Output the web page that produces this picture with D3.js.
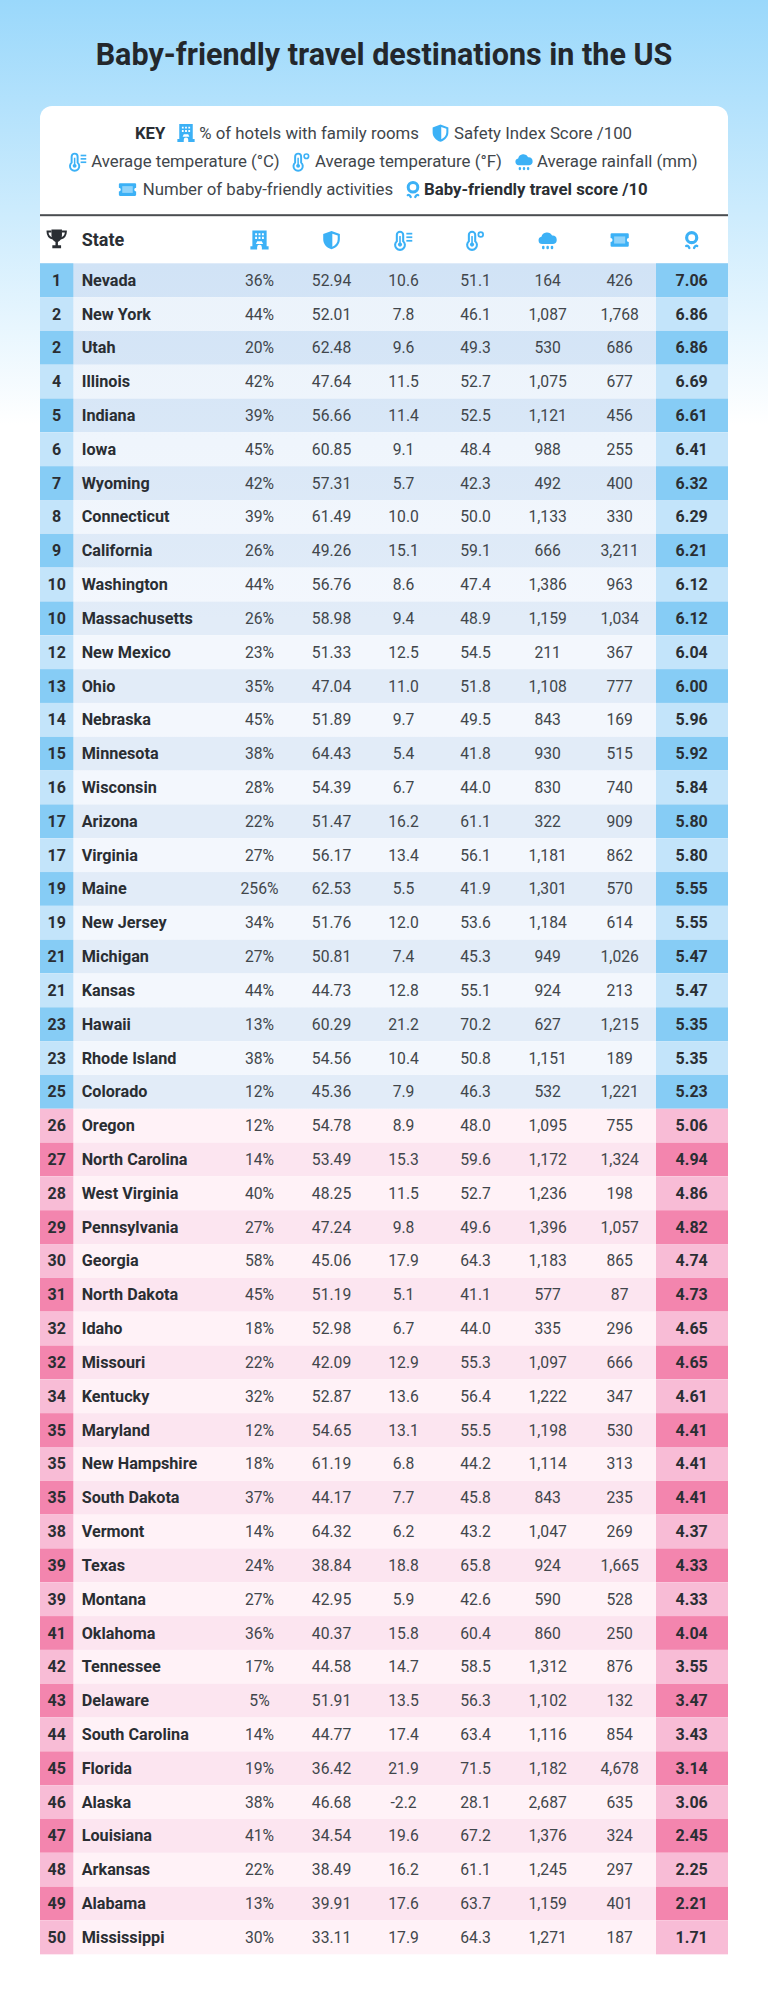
<!DOCTYPE html>
<html>
<head>
<meta charset="utf-8">
<script src="https://cdn.jsdelivr.net/npm/d3@7"></script>
<style>
  html, body { margin: 0; padding: 0; background: #fff; }
  svg { display: block; }
  text { font-family: Roboto, sans-serif; }
</style>
</head>
<body>
<script>
// table data
var ranks = [1,2,2,4,5,6,7,8,9,10,10,12,13,14,15,16,17,17,19,19,21,21,23,23,25,26,27,28,29,30,31,32,32,34,35,35,35,38,39,39,41,42,43,44,45,46,47,48,49,50];
var states = ["Nevada","New York","Utah","Illinois","Indiana","Iowa","Wyoming","Connecticut","California","Washington","Massachusetts","New Mexico","Ohio","Nebraska","Minnesota","Wisconsin","Arizona","Virginia","Maine","New Jersey","Michigan","Kansas","Hawaii","Rhode Island","Colorado","Oregon","North Carolina","West Virginia","Pennsylvania","Georgia","North Dakota","Idaho","Missouri","Kentucky","Maryland","New Hampshire","South Dakota","Vermont","Texas","Montana","Oklahoma","Tennessee","Delaware","South Carolina","Florida","Alaska","Louisiana","Arkansas","Alabama","Mississippi"];
var hotels = [36,44,20,42,39,45,42,39,26,44,26,23,35,45,38,28,22,27,256,34,27,44,13,38,12,12,14,40,27,58,45,18,22,32,12,18,37,14,24,27,36,17,5,14,19,38,41,22,13,30];
var safety = [52.94,52.01,62.48,47.64,56.66,60.85,57.31,61.49,49.26,56.76,58.98,51.33,47.04,51.89,64.43,54.39,51.47,56.17,62.53,51.76,50.81,44.73,60.29,54.56,45.36,54.78,53.49,48.25,47.24,45.06,51.19,52.98,42.09,52.87,54.65,61.19,44.17,64.32,38.84,42.95,40.37,44.58,51.91,44.77,36.42,46.68,34.54,38.49,39.91,33.11];
var tempC = [10.6,7.8,9.6,11.5,11.4,9.1,5.7,10.0,15.1,8.6,9.4,12.5,11.0,9.7,5.4,6.7,16.2,13.4,5.5,12.0,7.4,12.8,21.2,10.4,7.9,8.9,15.3,11.5,9.8,17.9,5.1,6.7,12.9,13.6,13.1,6.8,7.7,6.2,18.8,5.9,15.8,14.7,13.5,17.4,21.9,-2.2,19.6,16.2,17.6,17.9];
var tempF = [51.1,46.1,49.3,52.7,52.5,48.4,42.3,50.0,59.1,47.4,48.9,54.5,51.8,49.5,41.8,44.0,61.1,56.1,41.9,53.6,45.3,55.1,70.2,50.8,46.3,48.0,59.6,52.7,49.6,64.3,41.1,44.0,55.3,56.4,55.5,44.2,45.8,43.2,65.8,42.6,60.4,58.5,56.3,63.4,71.5,28.1,67.2,61.1,63.7,64.3];
var rainfall = [164,1087,530,1075,1121,988,492,1133,666,1386,1159,211,1108,843,930,830,322,1181,1301,1184,949,924,627,1151,532,1095,1172,1236,1396,1183,577,335,1097,1222,1198,1114,843,1047,924,590,860,1312,1102,1116,1182,2687,1376,1245,1159,1271];
var activities = [426,1768,686,677,456,255,400,330,3211,963,1034,367,777,169,515,740,909,862,570,614,1026,213,1215,189,1221,755,1324,198,1057,865,87,296,666,347,530,313,235,269,1665,528,250,876,132,854,4678,635,324,297,401,187];
var scores = [7.06,6.86,6.86,6.69,6.61,6.41,6.32,6.29,6.21,6.12,6.12,6.04,6.00,5.96,5.92,5.84,5.80,5.80,5.55,5.55,5.47,5.47,5.35,5.35,5.23,5.06,4.94,4.86,4.82,4.74,4.73,4.65,4.65,4.61,4.41,4.41,4.41,4.37,4.33,4.33,4.04,3.55,3.47,3.43,3.14,3.06,2.45,2.25,2.21,1.71];

var titleText = "Baby-friendly travel destinations in the US";
var keyLabels = ["% of hotels with family rooms","Safety Index Score /100","Average temperature (°C)","Average temperature (°F)","Average rainfall (mm)","Number of baby-friendly activities","Baby-friendly travel score /10"];
var columnNames = ["hotel","shield","tempC","tempF","rain","ticket","rosette"];

var w = 768, h = 1994;
var iconBlue = "#3cb1f6", ink = "#2a2e33", inkSoft = "#41464b";

var svg = d3.select("body").append("svg").attr("width", w).attr("height", h);
var defs = svg.append("defs");

function vGradient(id, y1, y2, stops) {
    var g = defs.append("linearGradient").attr("id", id)
        .attr("gradientUnits", "userSpaceOnUse")
        .attr("x1", 0).attr("x2", 0).attr("y1", y1).attr("y2", y2);
    stops.forEach(function (s, i) {
        g.append("stop").attr("offset", i / (stops.length - 1)).attr("stop-color", s);
    });
}
vGradient("bg", 0, 425, ["#9ad8fb", "#ffffff"]);
vGradient("blueDark", 263, 620, ["#d1e3f6", "#e2ecf8"]);
vGradient("blueLight", 263, 620, ["#ebf3fb", "#f3f7fd"]);

// background and card
svg.append("rect").attr("width", w).attr("height", h).attr("fill", "url(#bg)");
svg.append("rect").attr("x", 40).attr("y", 106).attr("width", 688).attr("height", 1860).attr("rx", 12).attr("fill", "#fff");

svg.append("text").attr("x", 384).attr("y", 65).attr("text-anchor", "middle")
    .attr("font-size", 30.5).attr("font-weight", 700).attr("fill", "#23272c").text(titleText);

// scales
var yScale = d3.scaleBand().domain(d3.range(states.length)).range([263.3, 1954.3]);
var xScale = d3.scalePoint().domain(columnNames).range([259.5, 691.7]);

// icons, drawn in a 24x24 box
var icons = {
    hotel: function (g) {
        g.append("path").attr("fill", iconBlue).attr("fill-rule", "evenodd")
            .attr("d", "M3 0h18v20h2.5v4H15v-3a3 3 0 0 0-6 0v3H.5v-4H3z M6.5 3.5v2.6h2.4V3.5z M10.8 3.5v2.6h2.4V3.5z M15.1 3.5v2.6h2.4V3.5z M6.5 8v2.6h2.4V8z M10.8 8v2.6h2.4V8z M15.1 8v2.6h2.4V8z M7.5 17h9l-1.6-3.5H9.1z");
    },
    shield: function (g) {
        g.append("path").attr("fill", iconBlue).attr("fill-rule", "evenodd")
            .attr("d", "M12 .5L22.5 4.5V11C22.5 17 18.5 21.5 12 23.8 5.5 21.5 1.5 17 1.5 11V4.5z M13 4V20.4C17 18.6 19.8 15.4 19.8 11V6.4z");
    },
    tempC: function (g) { thermometer(g); [4, 8.5, 13].forEach(function (y) {
            g.append("rect").attr("x", 15.5).attr("y", y - 1.1).attr("width", 7.5).attr("height", 2.2).attr("fill", iconBlue);
        });
    },
    tempF: function (g) { thermometer(g);
        g.append("circle").attr("cx", 18.5).attr("cy", 5).attr("r", 3).attr("fill", "none").attr("stroke", iconBlue).attr("stroke-width", 2.2);
    },
    rain: function (g) {
        g.append("path").attr("fill", iconBlue)
            .attr("d", "M5 17a4.6 4.6 0 0 1-.8-9.1A7.2 7.2 0 0 1 17.6 6.3 5.4 5.4 0 0 1 19 17z");
        [6.5, 12, 17.5].forEach(function (x) {
            g.append("rect").attr("x", x - 1.6).attr("y", 19.4).attr("width", 3.2).attr("height", 4.2).attr("rx", 1.5).attr("fill", iconBlue);
        });
    },
    ticket: function (g) {
        g.append("path").attr("fill", iconBlue)
            .attr("d", "M2 3.5h20a1.5 1.5 0 0 1 1.5 1.5v4.5a2.5 2.5 0 0 0 0 5V19a1.5 1.5 0 0 1-1.5 1.5H2A1.5 1.5 0 0 1 .5 19v-4.5a2.5 2.5 0 0 0 0-5V5A1.5 1.5 0 0 1 2 3.5z");
        g.append("rect").attr("x", 5).attr("y", 7.5).attr("width", 14).attr("height", 9).attr("fill", "#8fd3fa");
    },
    rosette: function (g) {
        g.append("circle").attr("cx", 12).attr("cy", 9).attr("r", 6.4).attr("fill", "none").attr("stroke", iconBlue).attr("stroke-width", 4);
        g.append("path").attr("fill", "none").attr("stroke", iconBlue).attr("stroke-width", 3).attr("stroke-linecap", "round")
            .attr("d", "M5 19.5c1.5-.8 3 .2 4 2.5 M19 19.5c-1.5-.8-3 .2-4 2.5");
    },
    trophy: function (g) {
        g.append("path").attr("fill", ink)
            .attr("d", "M6 1h12v7c0 4-2.4 6.5-4.6 7.3V19H17v3.5H7V19h3.6v-3.7C8.4 14.5 6 12 6 8z");
        g.append("path").attr("fill", "none").attr("stroke", ink).attr("stroke-width", 2.2)
            .attr("d", "M6 3.5H1.5C1.5 8 3.5 10.5 7.5 11.5 M18 3.5h4.5c0 4.5-2 7-6 8");
    }
};

function thermometer(g) {
    g.append("path").attr("fill", "none").attr("stroke", iconBlue).attr("stroke-width", 2.6)
        .attr("d", "M3.5 13.5V5.5a4 4 0 0 1 8 0v8a6.2 6.2 0 1 1-8 0z");
    g.append("circle").attr("cx", 7.5).attr("cy", 17.8).attr("r", 2.6).attr("fill", iconBlue);
    g.append("rect").attr("x", 6.5).attr("y", 7).attr("width", 2).attr("height", 10).attr("fill", iconBlue);
}

function drawIcon(name, cx, cy, size) {
    var s = size / 24;
    var g = svg.append("g").attr("transform", "translate(" + (cx - size / 2) + "," + (cy - size / 2) + ") scale(" + s + ")");
    icons[name](g);
}

// key
var lineY = [138.5, 167, 195];
var keyIconX = [186, 440.5, 78, 301.5, 524, 127.5, 413];
var keyIconLine = [0, 0, 1, 1, 1, 2, 2];
var keyTextX = [199.3, 454, 91.3, 315, 537, 142.7, 424];

svg.append("text").attr("x", 135).attr("y", lineY[0]).attr("font-size", 16.7).attr("font-weight", 700).attr("fill", ink).text("KEY");
keyLabels.forEach(function (label, i) {
    var y = lineY[keyIconLine[i]];
    drawIcon(columnNames[i], keyIconX[i], y - 5.5, 18);
    svg.append("text").attr("x", keyTextX[i]).attr("y", y)
        .attr("font-size", 16.8)
        .attr("font-weight", i === 6 ? 700 : 400)
        .attr("fill", i === 6 ? ink : inkSoft)
        .text(label);
});

// divider and header
svg.append("rect").attr("x", 40).attr("y", 214.2).attr("width", 688).attr("height", 2).attr("fill", "#4a4d50");
drawIcon("trophy", 56.7, 239, 21);
svg.append("text").attr("x", 81.7).attr("y", 245.5).attr("font-size", 18).attr("font-weight", 700).attr("fill", ink).text("State");
columnNames.forEach(function (name) {
    drawIcon(name, xScale(name), 240, 19);
});

// rows
var rows = svg.selectAll("g.row").data(states).enter().append("g").attr("class", "row");

function isDark(i) { return i % 2 === 0; }
function isTop(i) { return i < 25; }

rows.append("rect").attr("x", 40).attr("y", function (d, i) { return yScale(i); })
    .attr("width", 688).attr("height", yScale.bandwidth())
    .attr("fill", function (d, i) {
        if (isTop(i)) return isDark(i) ? "url(#blueDark)" : "url(#blueLight)";
        return isDark(i) ? "#fce5f0" : "#fff2f7";
    });

function accent(i) {
    if (isTop(i)) return isDark(i) ? "#86ccf5" : "#c3e4fa";
    return isDark(i) ? "#f385ae" : "#f8bcd6";
}
rows.append("rect").attr("x", 40).attr("y", function (d, i) { return yScale(i); })
    .attr("width", 33.3).attr("height", yScale.bandwidth()).attr("fill", function (d, i) { return accent(i); });
rows.append("rect").attr("x", 656).attr("y", function (d, i) { return yScale(i); })
    .attr("width", 72).attr("height", yScale.bandwidth()).attr("fill", function (d, i) { return accent(i); });

function baseline(i) { return yScale(i) + yScale.bandwidth() / 2 + 5.5; }

rows.append("text").attr("x", 56.7).attr("y", function (d, i) { return baseline(i); }).attr("text-anchor", "middle")
    .attr("font-size", 16).attr("font-weight", 700).attr("fill", ink)
    .text(function (d, i) { return ranks[i]; });
rows.append("text").attr("x", 81.7).attr("y", function (d, i) { return baseline(i); })
    .attr("font-size", 16.2).attr("font-weight", 700).attr("fill", ink)
    .text(function (d) { return d; });

var comma = d3.format(",");
var cellText = {
    hotel: function (i) { return hotels[i] + "%"; },
    shield: function (i) { return safety[i].toFixed(2); },
    tempC: function (i) { return tempC[i].toFixed(1); },
    tempF: function (i) { return tempF[i].toFixed(1); },
    rain: function (i) { return comma(rainfall[i]); },
    ticket: function (i) { return comma(activities[i]); },
    rosette: function (i) { return scores[i].toFixed(2); }
};
columnNames.forEach(function (name) {
    rows.append("text").attr("x", xScale(name)).attr("y", function (d, i) { return baseline(i); }).attr("text-anchor", "middle")
        .attr("font-size", name === "rosette" ? 16 : 15.7)
        .attr("font-weight", name === "rosette" ? 700 : 400)
        .attr("fill", name === "rosette" ? ink : inkSoft)
        .text(function (d, i) { return cellText[name](i); });
});
</script>
</body>
</html>
